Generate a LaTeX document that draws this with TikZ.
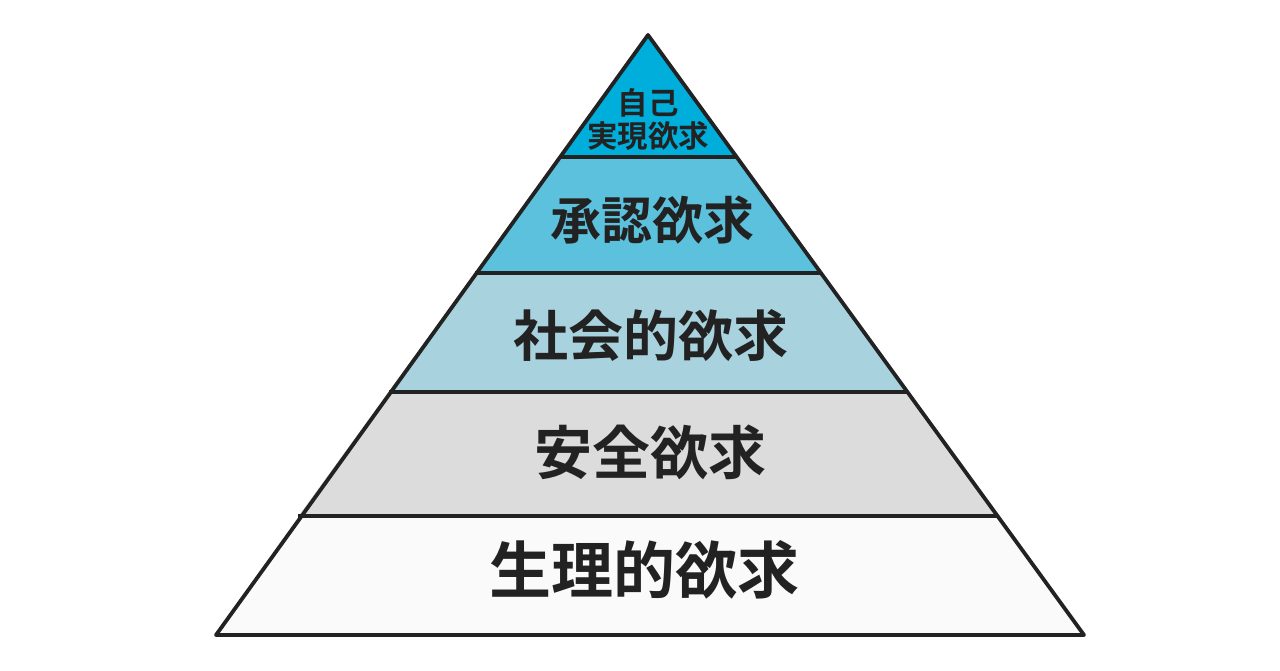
\documentclass[tikz,border=0pt]{standalone}
\usepackage{fontspec}
\newfontfamily\cjk{Noto Sans CJK JP Bold}
\definecolor{c1}{HTML}{00AEDB}
\definecolor{c2}{HTML}{5CC1DD}
\definecolor{c3}{HTML}{A8D3DE}
\definecolor{c4}{HTML}{DCDCDC}
\definecolor{c5}{HTML}{FAFAFA}
\definecolor{tx}{HTML}{222222}
\begin{document}
\begin{tikzpicture}[x=1pt,y=-1pt,line join=round,
  lay/.style={draw=tx,line width=3.8pt},
  lbl/.style={font=\cjk,text=tx,align=center,inner sep=0pt}]
\useasboundingbox (0,0) rectangle (1280,670);
\coordinate (A) at (648,35);
\coordinate (BL) at (216,635);
\coordinate (BR) at (1084,635);
\fill[c1] (A) -- (559.3,157) -- (736.7,157) -- cycle;
\fill[c2] (559.3,157) -- (475.0,273) -- (821.0,273) -- (736.7,157) -- cycle;
\fill[c3] (475.0,273) -- (388.5,392) -- (907.5,392) -- (821.0,273) -- cycle;
\fill[c4] (388.5,392) -- (298.4,516) -- (997.6,516) -- (907.5,392) -- cycle;
\fill[c5] (298.4,516) -- (BL) -- (BR) -- (997.6,516) -- cycle;
\draw[lay] (559.3,157) -- (736.7,157);
\draw[lay] (475.0,273) -- (821.0,273);
\draw[lay] (388.5,392) -- (907.5,392);
\draw[lay] (298.4,516) -- (997.6,516);
\draw[lay] (A) -- (BL) -- (BR) -- cycle;
\node[lbl,font=\cjk\fontsize{30.5}{33}\selectfont] (t1) at (648,119) {自己\\実現欲求};
\node[lbl,font=\cjk\fontsize{51}{55}\selectfont] (t2) at (652,220) {承認欲求};
\node[lbl,font=\cjk\fontsize{55}{60}\selectfont] (t3) at (651,336) {社会的欲求};
\node[lbl,font=\cjk\fontsize{58}{62}\selectfont] (t4) at (650,452) {安全欲求};
\node[lbl,font=\cjk\fontsize{62}{66}\selectfont] (t5) at (644,570) {生理的欲求};
\end{tikzpicture}
\end{document}
